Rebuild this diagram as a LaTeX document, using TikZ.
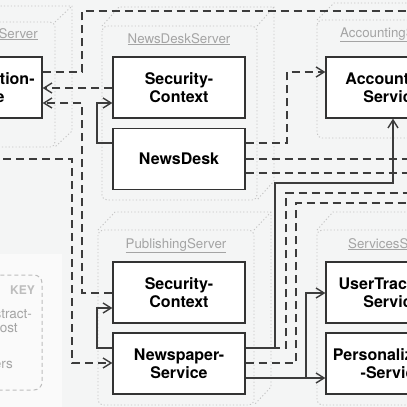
\documentclass[tikz,border=0pt]{standalone}
\usepackage{fontspec}
\setmainfont{TeX Gyre Heros}
\usetikzlibrary{arrows.meta}
\definecolor{bg}{HTML}{F4F5F5}
\definecolor{keybg}{HTML}{FAFAFA}
\definecolor{linec}{HTML}{3C3C3C}
\definecolor{boxc}{HTML}{333333}
\definecolor{framec}{HTML}{C4C4C4}
\definecolor{lblc}{HTML}{A4A4A4}
\definecolor{keyc}{HTML}{BDBDBD}
\tikzset{
 box/.style={draw=boxc, line width=1.3pt, fill=white, minimum width=132pt, minimum height=61pt, inner sep=0pt, align=center, font=\bfseries\fontsize{16}{18}\selectfont},
 dep/.style={draw=linec, line width=1.8pt, dash pattern=on 8pt off 5pt},
 use/.style={draw=linec, line width=1.8pt},
 tip/.style={-{Straight Barb[length=8pt,width=10pt,line width=1.4pt]}},
 frame/.style={draw=framec, line width=0.9pt, dash pattern=on 1.2pt off 2.2pt},
 frontface/.style={frame, rounded corners=5pt},
 srvlabel/.style={text=lblc, font=\fontsize{13.3}{15}\selectfont, inner sep=0pt},
 keytext/.style={text=lblc, font=\fontsize{13.5}{15}\selectfont, inner sep=0pt, align=center},
}
\begin{document}
\begin{tikzpicture}[x=1pt,y=-1pt]
\useasboundingbox (0,0) rectangle (407,407);
\clip (0,0) rectangle (407,407);
\fill[bg] (0,0) rectangle (407,407);
\fill[keybg] (-10,254) rectangle (62,420);
% server frames
% left server
\draw[frontface] (-200,22) rectangle (55,147);
\draw[frame] (-200,6) -- (72,6) -- (72,131) -- (55,147);
\draw[frame] (55,22) -- (72,6);
\node[srvlabel, anchor=base east] at (38,38) {\underline{AuthenticationServer}};
% NewsDeskServer
\draw[frontface] (102,26) rectangle (257,200);
\draw[frame] (102,26) -- (119,7) -- (274,7) -- (274,181) -- (257,200);
\draw[frame] (257,26) -- (274,7);
\node[srvlabel, anchor=base] at (179,43) {\underline{NewsDeskServer}};
% AccountingServer
\draw[frontface] (317,20) rectangle (480,138);
\draw[frame] (317,20) -- (334,3) -- (490,3);
\node[srvlabel, anchor=base west] at (340,37) {\underline{AccountingServer}};
% PublishingServer
\draw[frontface] (98,230) rectangle (254,405);
\draw[frame] (98,230) -- (115,212) -- (271,212) -- (271,387) -- (254,405);
\draw[frame] (254,230) -- (271,212);
\node[srvlabel, anchor=base] at (176,248) {\underline{PublishingServer}};
% ServicesServer
\draw[frontface] (317,230) rectangle (480,405);
\draw[frame] (317,230) -- (333,212) -- (490,212);
\node[srvlabel, anchor=base west] at (348,248) {\underline{ServicesServer}};
% key
\draw[draw=keyc, line width=1pt, dash pattern=on 4pt off 3pt, rounded corners=8pt] (-80,275) rectangle (42,390);
\node[text=keyc, font=\bfseries\fontsize{12}{14}\selectfont, anchor=base east, inner sep=0pt] (keylbl) at (35,294) {KEY};
\node[keytext, anchor=base] (k1) at (5,318) {Abstract-};
\node[keytext, anchor=base] (k2) at (5,332) {host};
\node[keytext, anchor=base east] (k3) at (13,368) {Servers};
% nodes
\node[box] (auth) at (-24,87.5) {Authentication-\\Service};
\node[box] (sec1) at (179,87.5) {Security-\\Context};
\node[box] (newsdesk) at (179,159) {NewsDesk};
\node[box] (sec2) at (179,292.5) {Security-\\Context};
\node[box] (newspaper) at (179,363.5) {Newspaper-\\Service};
\node[box] (acct) at (392,87.5) {Accounting-\\Service};
\node[box] (usertrack) at (392,292.5) {UserTracking-\\Service};
\node[box] (personal) at (392,363.5) {Personalization\\-Service};
% free ends
\coordinate (offA) at (420,11);
\coordinate (offB) at (-10,159);
\coordinate (offC) at (420,159);
\coordinate (offD) at (420,173);
\coordinate (offE) at (420,203);
\coordinate (offF) at (420,193);
% connectors
\draw[dep] (auth.east |- 0,72) -- (82,72) -- (82,11) -- (offA);
\draw[dep,tip] (sec1.west |- 0,88) -- (auth.east |- 0,88);
\draw[dep,tip] (sec2.west |- 0,293) -- (82,293) -- (82,103) -- (auth.east |- 0,103);
\draw[dep,tip] (offB) -- (72,159) -- (72,363) -- (newspaper.west |- 0,363);
\draw[use,tip] (newsdesk.west |- 0,143) -- (97,143) -- (97,103) -- (sec1.west |- 0,103);
\draw[use,tip] (newspaper.west |- 0,348) -- (97,348) -- (97,308) -- (sec2.west |- 0,308);
\draw[dep,tip] (newsdesk.east |- 0,143) -- (287,143) -- (287,72) -- (acct.west |- 0,72);
\draw[dep] (newsdesk.east |- 0,159) -- (offC);
\draw[dep] (newsdesk.east |- 0,173) -- (offD);
\draw[dep] (newspaper.east |- 0,363) -- (296,363) -- (296,203) -- (offE);
\draw[dep] (newspaper.east |- 0,348) -- (286,348) -- (286,193) -- (offF);
\draw[use,tip] (newspaper.east |- 0,348) -- (275,348) -- (275,183) -- (393,183) -- (acct.south -| 393,0);
\draw[use,tip] (newspaper.east |- 0,378) -- (personal.west |- 0,378);
\draw[use,tip] (newspaper.east |- 0,378) -- (306,378) -- (306,293) -- (usertrack.west |- 0,293);
\end{tikzpicture}
\end{document}
